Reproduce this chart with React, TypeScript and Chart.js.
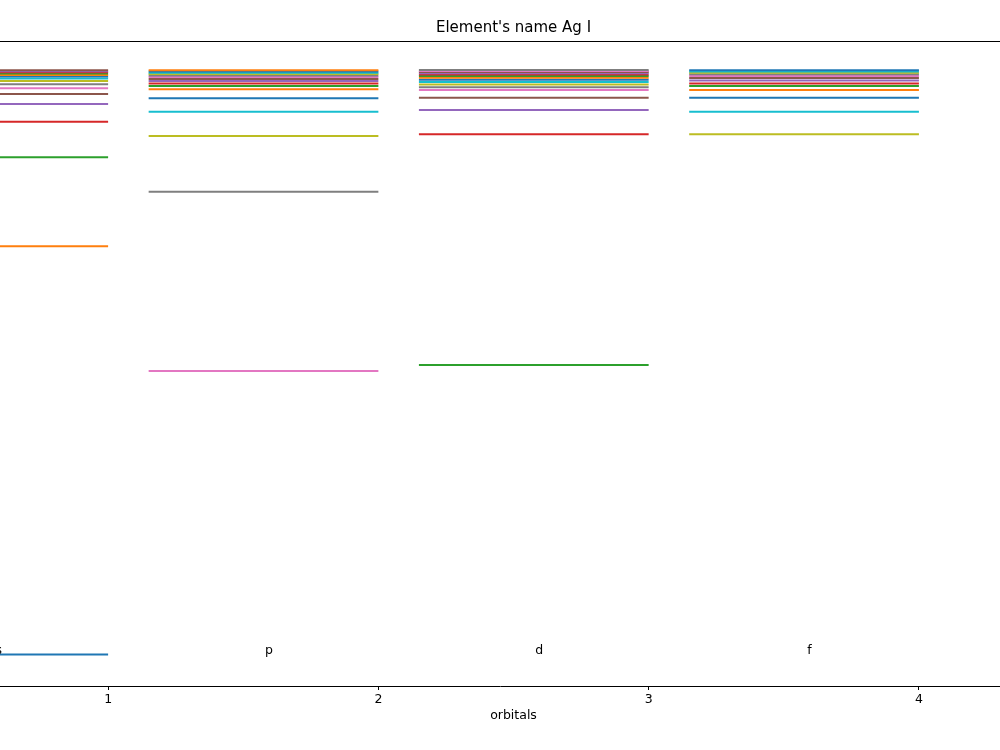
import React, { useEffect, useRef } from "react";
import { Chart, registerables } from "chart.js";

Chart.register(...registerables);

// ---- data ----
const orbitals = ["s", "p", "d", "f"];
const sLevels = [0, 5.285, 6.437, 6.898, 7.127, 7.257, 7.33, 7.382, 7.425, 7.457, 7.483, 7.503, 7.522, 7.538, 7.552, 7.565];
const pLevels = [3.67, 5.992, 6.713, 7.027, 7.201, 7.317, 7.36, 7.393, 7.425, 7.451, 7.477, 7.496, 7.515, 7.532, 7.548, 7.563];
const dLevels = [3.748, 6.735, 7.049, 7.209, 7.308, 7.343, 7.38, 7.412, 7.442, 7.468, 7.49, 7.509, 7.526, 7.541, 7.554, 7.567];
const fLevels = [6.735, 7.027, 7.209, 7.308, 7.36, 7.393, 7.431, 7.463, 7.49, 7.512, 7.531, 7.549, 7.565];
const levelsByOrbital = [sLevels, pLevels, dLevels, fLevels];
const xTicks = [1, 2, 3, 4];
const chartTitle = "Element's name Ag I";
const xTitle = "orbitals";

const tab10 = [
  "#1f77b4", "#ff7f0e", "#2ca02c", "#d62728", "#9467bd",
  "#8c564b", "#e377c2", "#7f7f7f", "#bcbd22", "#17becf",
];

const FONT = '"DejaVu Sans", sans-serif';

export default function App() {
  const ref = useRef<HTMLCanvasElement | null>(null);

  useEffect(() => {
    document.body.style.margin = "0";
    const canvas = ref.current;
    if (!canvas) return;

    const datasets: any[] = [];
    let k = 0;
    levelsByOrbital.forEach((levels, i) => {
      levels.forEach((e) => {
        datasets.push({
          data: [
            { x: i + 0.15, y: e },
            { x: i + 1, y: e },
          ],
          borderColor: tab10[k % 10],
          backgroundColor: tab10[k % 10],
          borderWidth: 2,
          pointRadius: 0,
          fill: false,
          order: -k,
        });
        k++;
      });
    });

    const decor = {
      id: "decor",
      afterDraw(chart: any) {
        const { ctx, chartArea, scales } = chart;
        const xs = scales.x;
        const ys = scales.y;
        ctx.save();
        ctx.strokeStyle = "#000";
        ctx.lineWidth = 1;
        ctx.beginPath();
        ctx.moveTo(chartArea.left, chartArea.top + 0.5);
        ctx.lineTo(chartArea.right, chartArea.top + 0.5);
        ctx.stroke();

        ctx.fillStyle = "#000";
        ctx.textAlign = "center";
        ctx.textBaseline = "middle";
        ctx.font = `12.5px ${FONT}`;
        orbitals.forEach((o, i) => {
          ctx.fillText(o, xs.getPixelForValue(i + 0.595), ys.getPixelForValue(0.045));
        });
        const cx = xs.getPixelForValue(2.5);
        ctx.font = `15px ${FONT}`;
        ctx.fillText(chartTitle, cx, chartArea.top - 13);
        ctx.font = `12.5px ${FONT}`;
        ctx.fillText(xTitle, cx, chartArea.bottom + 30);
        ctx.restore();
      },
    };

    const chart = new Chart(canvas, {
      type: "line",
      data: { datasets },
      options: {
        animation: false,
        responsive: false,
        devicePixelRatio: 1,
        layout: { padding: { top: 41, left: 0, right: 0, bottom: 0 } },
        plugins: { legend: { display: false }, tooltip: { enabled: false }, title: { display: false } },
        scales: {
          x: {
            type: "linear",
            min: 0.6,
            max: 4.3,
            afterBuildTicks: (scale: any) => {
              scale.ticks = xTicks.map((v) => ({ value: v }));
            },
            afterFit: (scale: any) => {
              scale.height = 64;
            },
            grid: { drawOnChartArea: false, drawTicks: true, tickLength: 4, color: "#000" },
            border: { display: true, color: "#000", width: 1 },
            ticks: {
              color: "#000",
              font: { family: FONT, size: 12.5 },
              padding: 2,
              autoSkip: false,
              maxRotation: 0,
              callback: (v: any) => String(v),
            },
          },
          y: {
            type: "linear",
            display: false,
            min: -0.408,
            max: 7.9425,
          },
        },
      },
      plugins: [decor],
    });

    return () => chart.destroy();
  }, []);

  return <canvas ref={ref} width={1000} height={750} style={{ display: "block" }} />;
}
